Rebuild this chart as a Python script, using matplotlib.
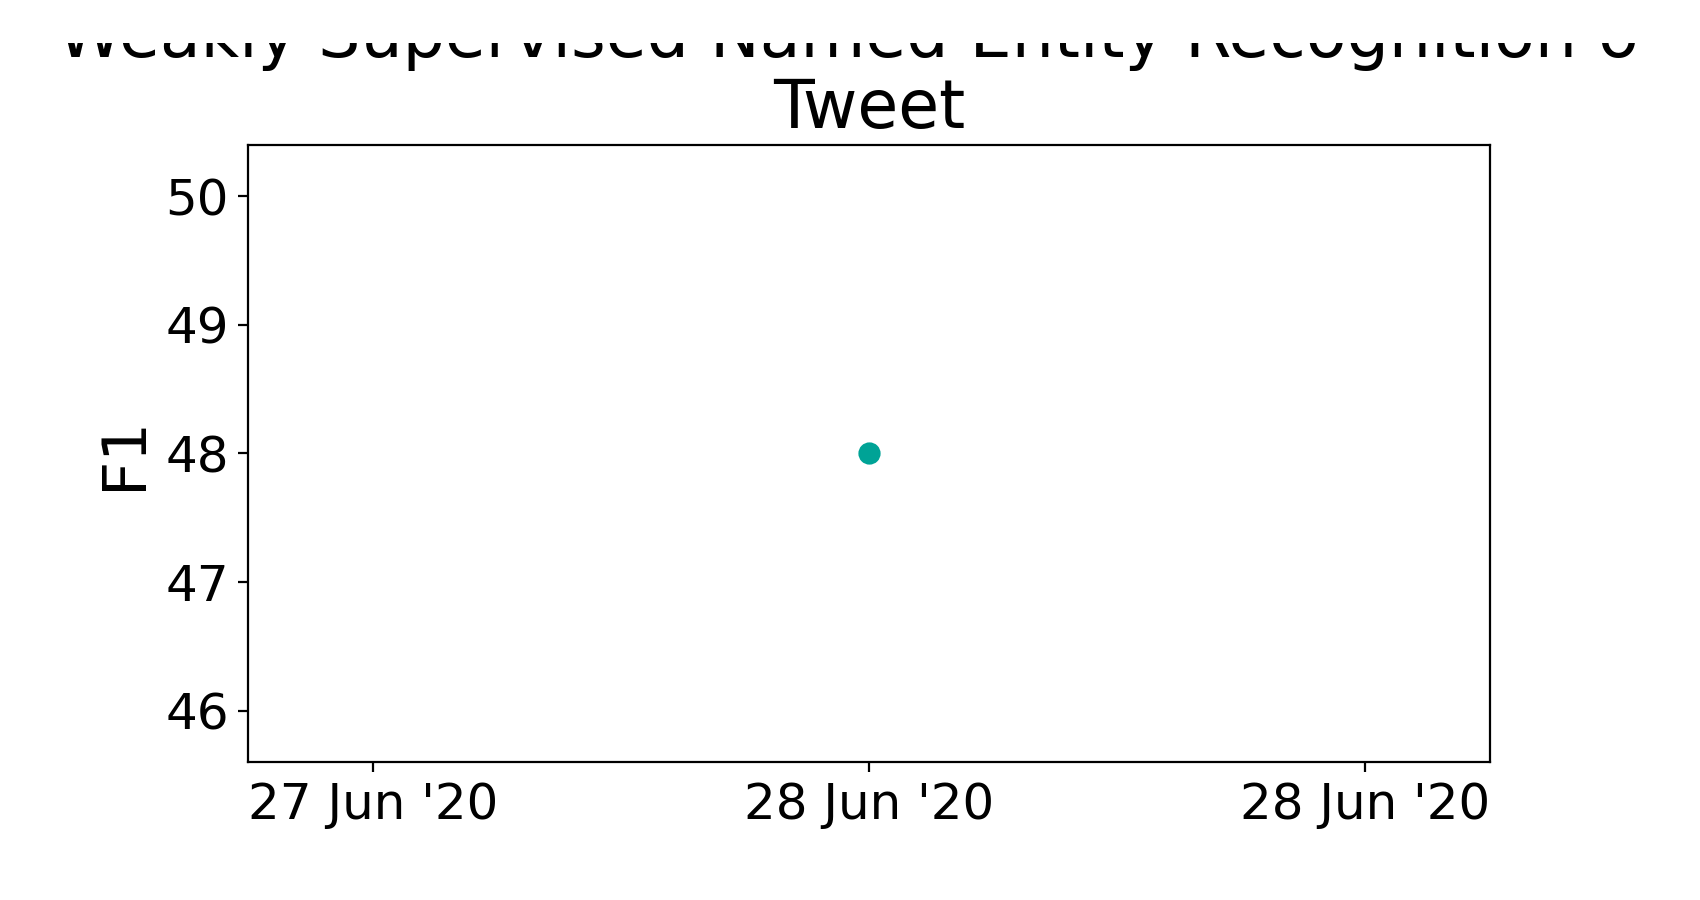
import datetime as dt
import matplotlib
matplotlib.use('Agg')
import matplotlib.pyplot as plt
import matplotlib.dates as mdates
from matplotlib.transforms import Bbox

# data
dates = [dt.datetime(2020, 6, 28)]
f1 = [48.0]
title = 'Weakly Supervised Named Entity Recognition on\nTweet'

fig = plt.figure(figsize=(8.5, 4.5), dpi=200)
ax = fig.add_axes([0.146, 0.1533, 0.7305, 0.6857])
ax.plot(dates, f1, 'o', color='#00a396', markersize=7)

# one point only: pad the date axis by a fraction of a day
step = dt.timedelta(hours=1.2)
half = step * (621 / 496)
ax.set_xlim(dates[0] - half, dates[0] + half)
ax.set_xticks([dates[0] - step, dates[0], dates[0] + step])
ax.xaxis.set_major_formatter(mdates.DateFormatter("%d %b '%y"))
ax.set_ylim(f1[0] * 0.95, f1[0] * 1.05)

t = ax.set_title(title, fontsize=24, linespacing=1.1)
# the original image was cropped, cutting the top line of the title
t.set_clip_box(Bbox.from_extents(65, 0, 1640, 857))
t.set_clip_on(True)
ax.set_ylabel('F1', fontsize=22)
ax.tick_params(labelsize=18)

fig.savefig('out.png', dpi=200)
